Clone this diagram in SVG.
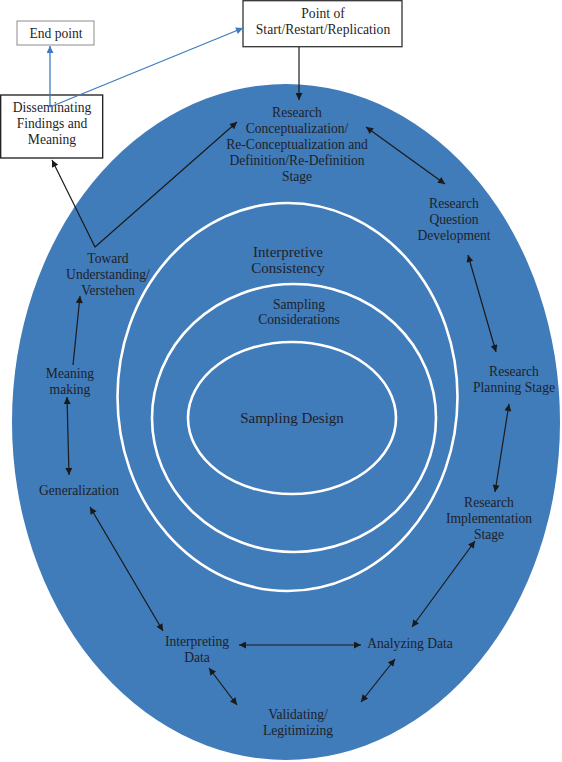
<svg xmlns="http://www.w3.org/2000/svg" width="562" height="762" viewBox="0 0 562 762">
<style>
text{font-family:"Liberation Serif","Times New Roman",serif;font-size:13.6px;fill:#1f1f29;text-anchor:middle}
.big{font-size:15px}
.ring{fill:none;stroke:#ffffff;stroke-width:2.6}
.box{fill:#ffffff}
.blk{stroke:#1a1a1a;stroke-width:1.2;fill:none}
.blu{stroke:#3f7bbf;stroke-width:1.3;fill:none}
</style>
<defs>
<marker id="ah" viewBox="0 0 10 10" refX="10" refY="5" markerWidth="8" markerHeight="7" markerUnits="userSpaceOnUse" orient="auto-start-reverse">
<path d="M0,0 L10,5 L0,10 z" fill="#1a1a1a"/>
</marker>
<marker id="ahb" viewBox="0 0 10 10" refX="10" refY="5" markerWidth="8" markerHeight="7" markerUnits="userSpaceOnUse" orient="auto-start-reverse">
<path d="M0,0 L10,5 L0,10 z" fill="#3f7bbf"/>
</marker>
</defs>
<g id="outer-ellipse">
<ellipse cx="286" cy="422" rx="274" ry="338" fill="#407bba"/>
</g>
<g id="interpretive-consistency">
<ellipse class="ring" cx="287.5" cy="397" rx="170" ry="194"/>
<text class="big" x="288" y="257">Interpretive</text>
<text class="big" x="288" y="273">Consistency</text>
</g>
<g id="sampling-considerations">
<ellipse class="ring" cx="294" cy="418" rx="142" ry="134"/>
<text x="299" y="309">Sampling</text>
<text x="299" y="324">Considerations</text>
</g>
<g id="sampling-design">
<ellipse class="ring" cx="292" cy="418" rx="104" ry="76"/>
<text class="big" x="292" y="423">Sampling Design</text>
</g>
<g id="research-conceptualization">
<text x="297" y="117">Research</text>
<text x="297" y="133">Conceptualization/</text>
<text x="297" y="149">Re-Conceptualization and</text>
<text x="297" y="165">Definition/Re-Definition</text>
<text x="297" y="181">Stage</text>
</g>
<g id="research-question">
<text x="454" y="208">Research</text>
<text x="454" y="224">Question</text>
<text x="454" y="240">Development</text>
</g>
<g id="research-planning">
<text x="514" y="376">Research</text>
<text x="514" y="392">Planning Stage</text>
</g>
<g id="research-implementation">
<text x="489" y="507">Research</text>
<text x="489" y="523">Implementation</text>
<text x="489" y="539">Stage</text>
</g>
<g id="analyzing-data">
<text x="410" y="648">Analyzing Data</text>
</g>
<g id="validating">
<text x="298" y="719">Validating/</text>
<text x="298" y="735">Legitimizing</text>
</g>
<g id="interpreting-data">
<text x="197" y="646">Interpreting</text>
<text x="197" y="662">Data</text>
</g>
<g id="generalization">
<text x="79" y="495">Generalization</text>
</g>
<g id="meaning-making">
<text x="70" y="378">Meaning</text>
<text x="70" y="394">making</text>
</g>
<g id="toward-understanding">
<text x="108" y="263">Toward</text>
<text x="108" y="279">Understanding/</text>
<text x="108" y="295">Verstehen</text>
</g>
<g id="point-of-start">
<rect class="box" x="243" y="0.7" width="159" height="46" stroke="#333333" stroke-width="1.3"/>
<text x="323" y="18">Point of</text>
<text x="323" y="34">Start/Restart/Replication</text>
</g>
<g id="end-point">
<rect class="box" x="17" y="21" width="77" height="24" stroke="#8c8c8c" stroke-width="1"/>
<text x="56" y="38">End point</text>
</g>
<g id="disseminating">
<rect class="box" x="0.7" y="95" width="102" height="63" stroke="#1a1a1a" stroke-width="1.3"/>
<text x="52" y="112">Disseminating</text>
<text x="52" y="128">Findings and</text>
<text x="52" y="144">Meaning</text>
</g>
<g id="connectors">
<line class="blk" x1="299" y1="47" x2="299" y2="100" marker-end="url(#ah)"/>
<line class="blk" x1="366" y1="127" x2="445" y2="184" marker-start="url(#ah)" marker-end="url(#ah)"/>
<line class="blk" x1="468" y1="255" x2="496" y2="352" marker-start="url(#ah)" marker-end="url(#ah)"/>
<line class="blk" x1="509" y1="404" x2="495" y2="492" marker-start="url(#ah)" marker-end="url(#ah)"/>
<line class="blk" x1="475" y1="541" x2="412" y2="627" marker-start="url(#ah)" marker-end="url(#ah)"/>
<line class="blk" x1="361" y1="645" x2="239" y2="645" marker-start="url(#ah)" marker-end="url(#ah)"/>
<line class="blk" x1="395" y1="659" x2="361" y2="702" marker-start="url(#ah)" marker-end="url(#ah)"/>
<line class="blk" x1="237" y1="705" x2="209" y2="668" marker-start="url(#ah)" marker-end="url(#ah)"/>
<line class="blk" x1="163" y1="631" x2="90" y2="507" marker-start="url(#ah)" marker-end="url(#ah)"/>
<line class="blk" x1="69" y1="475" x2="67" y2="397" marker-start="url(#ah)" marker-end="url(#ah)"/>
<line class="blk" x1="73" y1="365" x2="80" y2="296" marker-end="url(#ah)"/>
<polyline class="blk" points="52,160 95,247 237,122" marker-start="url(#ah)" marker-end="url(#ah)"/>
<line class="blu" x1="50" y1="107" x2="50" y2="46" marker-end="url(#ahb)"/>
<line class="blu" x1="50" y1="107" x2="243" y2="28" marker-end="url(#ahb)"/>
</g>
</svg>
